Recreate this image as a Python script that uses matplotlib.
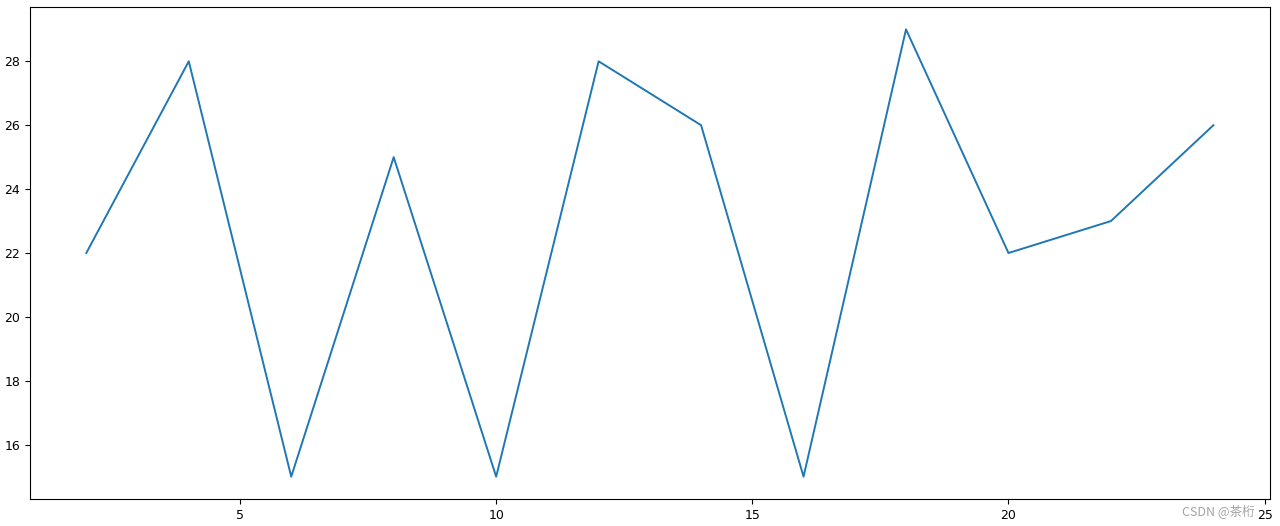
import matplotlib
matplotlib.use("Agg")
import matplotlib.pyplot as plt

x_values = [2, 4, 6, 8, 10, 12, 14, 16, 18, 20, 22, 24]
y_values = [22, 28, 15, 25, 15, 28, 26, 15, 29, 22, 23, 26]
watermark = "CSDN @茶桁"

fig = plt.figure(figsize=(12.8, 5.26), dpi=100)
ax = fig.add_axes([0.0234, 0.0513, 0.9686, 0.9354])
ax.plot(x_values, y_values, color="#1f77b4", linewidth=1.4)
ax.tick_params(labelsize=9)

fig.text(0.9805, 0.028, watermark, ha="right", va="center", fontsize=9,
         color="#999999", family=["Noto Sans CJK SC", "DejaVu Sans"], alpha=0.9)

fig.savefig("out.png", dpi=100)
